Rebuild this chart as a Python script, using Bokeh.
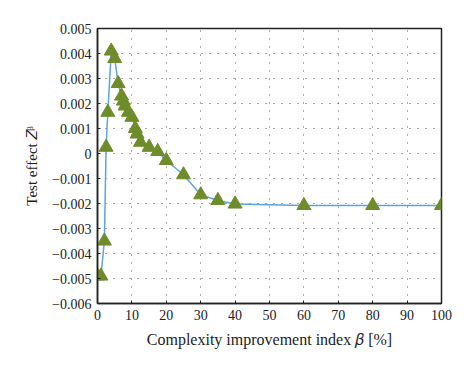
from bokeh.plotting import figure
from bokeh.models import FixedTicker, CustomJSTickFormatter, Range1d
from bokeh.embed import file_html
from bokeh.resources import INLINE

# data
beta = [0, 1, 2, 2.5, 3, 4, 5, 6, 7, 7.5, 8, 9, 10, 11, 11.5, 12.5, 15, 17.5, 20, 25, 30, 35, 40, 60, 80, 100]
effect = [-0.0049, -0.0049, -0.0035, 0.00025, 0.00165, 0.0041, 0.0038, 0.0028, 0.0023, 0.0021, 0.0019,
          0.00165, 0.00145, 0.0010, 0.00078, 0.00045, 0.00025, 0.00008, -0.00028, -0.00085, -0.00165,
          -0.00188, -0.00202, -0.00208, -0.00208, -0.00208]
x_ticks = [0, 10, 20, 30, 40, 50, 60, 70, 80, 90, 100]
y_ticks = [-0.006, -0.005, -0.004, -0.003, -0.002, -0.001, 0.0, 0.001, 0.002, 0.003, 0.004, 0.005]
x_label = "Complexity improvement index \U0001D6FD [%]"
y_label = "Test effect \U0001D44D\u1D5D"

FONT = "Liberation Serif"

p = figure(width=458, height=354, frame_width=344, frame_height=275,
           min_border_left=97, min_border_right=17, min_border_top=28, min_border_bottom=51,
           x_range=Range1d(0, 100), y_range=Range1d(-0.006, 0.005),
           output_backend="svg", toolbar_location=None)
p.background_fill_color = "white"
p.border_fill_color = "white"
p.outline_line_color = "#222222"
p.outline_line_width = 1.5

p.line(beta, effect, line_color="#5aa5dc", line_width=1.5)
p.scatter(beta, effect, marker="triangle", size=14, fill_color="#6e8c2a", line_color="#6e8c2a")

for ax in (p.xaxis[0], p.yaxis[0]):
    ax.axis_line_color = "#222222"
    ax.axis_line_width = 1.5
    ax.major_tick_in = 3
    ax.major_tick_out = 0
    ax.major_tick_line_color = "#222222"
    ax.minor_tick_line_color = None
    ax.major_label_text_font = FONT
    ax.major_label_text_font_size = "14px"
    ax.major_label_text_color = "#222222"
    ax.major_label_standoff = 6
    ax.axis_label_text_font = FONT
    ax.axis_label_text_font_style = "normal"
    ax.axis_label_text_color = "#222222"

p.xaxis.axis_label = x_label
p.xaxis.axis_label_text_font_size = "16px"
p.xaxis.axis_label_standoff = 8
p.yaxis.axis_label = y_label
p.yaxis.axis_label_text_font_size = "15px"
p.yaxis.axis_label_standoff = 9

p.xaxis.ticker = FixedTicker(ticks=x_ticks)
p.yaxis.ticker = FixedTicker(ticks=y_ticks)
p.yaxis.formatter = CustomJSTickFormatter(code="""
if (Math.abs(tick) < 1e-9) return "0";
return tick.toFixed(3).replace("-", "\u2212");
""")

p.grid.grid_line_color = "#555555"
p.grid.grid_line_dash = "1 7"
p.grid.grid_line_width = 1

open("out.html", "w").write(file_html(p, INLINE))
